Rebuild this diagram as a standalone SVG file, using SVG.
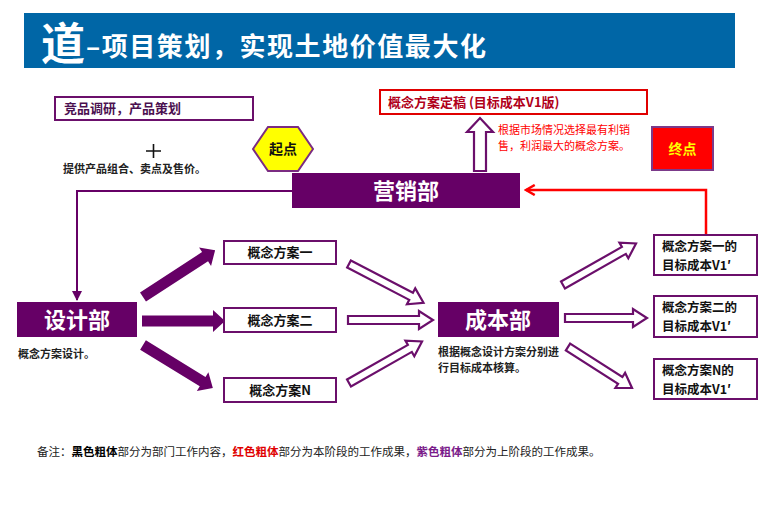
<svg xmlns="http://www.w3.org/2000/svg" width="760" height="527" viewBox="0 0 760 527">
<style>
text{font-family:"Noto Sans CJK SC","Noto Sans",sans-serif;}
.b{font-weight:bold;}
.dept{fill:#660066;}
.deptT{fill:#fff;font-size:22px;font-weight:bold;text-anchor:middle;}
.box{fill:#fff;stroke:#6B0F6B;stroke-width:2;}
.boxT{font-size:13px;font-weight:bold;fill:#111;}
.resT{font-size:12.5px;font-weight:bold;fill:#111;}
.solid{fill:#660066;stroke:none;}
.hollow{fill:#fff;stroke:#6B0F6B;stroke-width:2.2;stroke-linejoin:miter;}
.note{font-size:11px;font-weight:bold;fill:#222;}
</style>
<defs>
<marker id="tri" viewBox="0 0 10 10" refX="9" refY="5" markerWidth="5" markerHeight="5" orient="auto" markerUnits="strokeWidth">
<path d="M0,0 L10,5 L0,10 Z" fill="#660066"/>
</marker>
<marker id="chev" viewBox="0 0 10 10" refX="8" refY="5" markerWidth="5" markerHeight="5" orient="auto" markerUnits="strokeWidth">
<path d="M1,1 L8,5 L1,9" fill="none" stroke="#FF0000" stroke-width="2"/>
</marker>
</defs>

<g id="title">
<rect x="24" y="13" width="711" height="55" fill="#0066A6"/>
<text x="41" y="60" font-size="44" class="b" fill="#fff">道</text>
<text x="86" y="56" font-size="26" class="b" fill="#fff" textLength="400" lengthAdjust="spacing">–项目策划，实现土地价值最大化</text>
</g>

<g id="connectors">
<path d="M292,191 H77 V300" fill="none" stroke="#660066" stroke-width="2" marker-end="url(#tri)"/>
<path d="M706,235 V190 H526" fill="none" stroke="#FF0000" stroke-width="2.5" marker-end="url(#chev)"/>
<path class="hollow" d="M474,171 V132 H467 L480,118 L493,132 H486 V171 Z"/>
<path class="solid" transform="translate(143,297) rotate(-33)" d="M0,-5.5 L74,-5.5 L74,-11 L86,0 L74,11 L74,5.5 L0,5.5 Z"/>
<path class="solid" d="M142,315.5 L213,315.5 L213,310 L225,321 L213,332 L213,326.5 L142,326.5 Z"/>
<path class="solid" transform="translate(143,345) rotate(31.6)" d="M0,-5.5 L70,-5.5 L70,-11 L82,0 L70,11 L70,5.5 L0,5.5 Z"/>
<path class="hollow" transform="translate(349,264) rotate(27.5)" d="M0,-4 L70,-4 L70,-9 L84,0 L70,9 L70,4 L0,4 Z"/>
<path class="hollow" d="M348,316 L419,316 L419,311 L433,320 L419,329 L419,324 L348,324 Z"/>
<path class="hollow" transform="translate(349,383) rotate(-29.6)" d="M0,-4 L70,-4 L70,-9 L84,0 L70,9 L70,4 L0,4 Z"/>
<path class="hollow" transform="translate(563,285) rotate(-29.6)" d="M0,-4 L70,-4 L70,-9 L84,0 L70,9 L70,4 L0,4 Z"/>
<path class="hollow" d="M565,314 L633,314 L633,309 L647,318 L633,327 L633,322 L565,322 Z"/>
<path class="hollow" transform="translate(568,347) rotate(32.6)" d="M0,-4 L62,-4 L62,-9 L76,0 L62,9 L62,4 L0,4 Z"/>
</g>

<g id="research">
<rect x="55" y="97" width="198" height="23" class="box"/>
<text x="64" y="113" font-size="13" class="b" fill="#4B1050">竞品调研，产品策划</text>
<path d="M146,151 H161 M153.5,144 V158" stroke="#111" stroke-width="1.6"/>
<text x="63" y="173" class="note">提供产品组合、卖点及售价。</text>
</g>

<g id="start">
<polygon points="253,149 268,127 298,127 313,149 298,171 268,171" fill="#FFFF00" stroke="#7B2C82" stroke-width="2"/>
<text x="283" y="154" font-size="14" class="b" fill="#111" text-anchor="middle">起点</text>
</g>

<g id="marketing">
<rect x="292" y="173" width="228" height="35" class="dept"/>
<text x="406" y="199" class="deptT">营销部</text>
</g>

<g id="final">
<rect x="380" y="90" width="267" height="24" fill="#fff" stroke="#E00000" stroke-width="2"/>
<text x="388" y="107" font-size="13" class="b" fill="#B0001A">概念方案定稿 (目标成本V1版)</text>
<text x="498" y="134" font-size="11" fill="#FF0000"><tspan>根据市场情况选择最有利销</tspan><tspan x="498" dy="16">售，利润最大的概念方案。</tspan></text>
</g>

<g id="end">
<rect x="652" y="127" width="61" height="43" fill="#FF0000" stroke="#7B3A8A" stroke-width="2"/>
<text x="682.5" y="154" font-size="14" class="b" fill="#FFFF00" text-anchor="middle">终点</text>
</g>

<g id="design">
<rect x="17" y="302" width="120" height="35" class="dept"/>
<text x="77" y="328" class="deptT">设计部</text>
<text x="18" y="358" class="note">概念方案设计。</text>
</g>

<g id="c1">
<rect x="224" y="241" width="112" height="23" class="box"/>
<text x="280" y="257" class="boxT" text-anchor="middle">概念方案一</text>
</g>
<g id="c2">
<rect x="224" y="308" width="112" height="24" class="box"/>
<text x="280" y="325" class="boxT" text-anchor="middle">概念方案二</text>
</g>
<g id="cN">
<rect x="224" y="378" width="112" height="24" class="box"/>
<text x="280" y="395" class="boxT" text-anchor="middle">概念方案N</text>
</g>

<g id="cost">
<rect x="438" y="302" width="121" height="35" class="dept"/>
<text x="498" y="328" class="deptT">成本部</text>
<text x="438" y="356" class="note"><tspan>根据概念设计方案分别进</tspan><tspan x="438" dy="16">行目标成本核算。</tspan></text>
</g>

<g id="r1">
<rect x="654" y="235" width="103" height="40" class="box"/>
<text x="662" y="251" class="resT"><tspan>概念方案一的</tspan><tspan x="662" dy="18.5">目标成本V1′</tspan></text>
</g>
<g id="r2">
<rect x="654" y="296" width="103" height="41" class="box"/>
<text x="662" y="312" class="resT"><tspan>概念方案二的</tspan><tspan x="662" dy="18.5">目标成本V1′</tspan></text>
</g>
<g id="rN">
<rect x="654" y="359" width="103" height="40" class="box"/>
<text x="662" y="375" class="resT"><tspan>概念方案N的</tspan><tspan x="662" dy="18.5">目标成本V1′</tspan></text>
</g>

<g id="footnote">
<text x="37" y="456" font-size="11.5" fill="#222">备注：<tspan font-weight="bold" fill="#000">黑色粗体</tspan>部分为部门工作内容，<tspan font-weight="bold" fill="#E00000">红色粗体</tspan>部分为本阶段的工作成果，<tspan font-weight="bold" fill="#7A1A8A">紫色粗体</tspan>部分为上阶段的工作成果。</text>
</g>
</svg>
